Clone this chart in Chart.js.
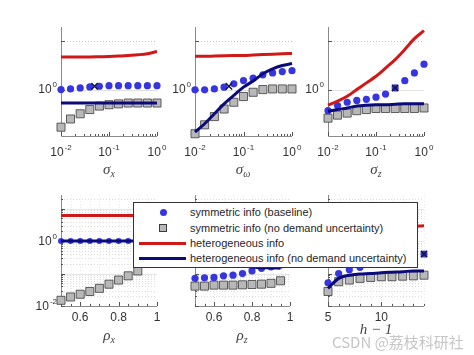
<!DOCTYPE html>
<html><head><meta charset="utf-8">
<script src="https://cdn.jsdelivr.net/npm/chart.js@4.4.1/dist/chart.umd.min.js"></script>
<style>
html,body{margin:0;padding:0;background:#fff}
body{width:474px;height:355px;overflow:hidden;position:relative;font-family:"Liberation Sans",Arial,sans-serif}
canvas{position:absolute}
.t{position:absolute;transform:translate(-50%,-50%);font:italic 15px "Liberation Serif","DejaVu Serif",serif;color:#444;white-space:nowrap;z-index:5}
.t sub{font-size:10px;vertical-align:-3px}
#leg{position:absolute;left:133px;top:202px;width:283px;height:64px;background:#fff;border:1px solid #333;z-index:10}
.row{position:absolute;left:0;height:15px;width:283px}
.row span{position:absolute;left:56px;top:0;font-size:11px;line-height:15px;color:#262626;white-space:nowrap}
.dot{position:absolute;left:26px;top:4px;width:7px;height:7px;border-radius:50%;background:#3636e0}
.sq{position:absolute;left:25px;top:3px;width:8px;height:8px;background:#b8b8b8;border:1px solid #3c3c3c;box-sizing:border-box}
.ln{position:absolute;left:5px;top:6px;width:47px;height:3px}
#wm{position:absolute;left:332px;top:331px;font:15px "Noto Sans CJK SC","Noto Sans",sans-serif;color:rgba(150,150,150,0.55);white-space:nowrap;z-index:20}
</style></head><body>

<div class="t" style="left:109px;top:170px">σ<sub>x</sub></div>
<div class="t" style="left:243px;top:170px">σ<sub>ω</sub></div>
<div class="t" style="left:376px;top:170px">σ<sub>z</sub></div>
<div class="t" style="left:109px;top:336px">ρ<sub>x</sub></div>
<div class="t" style="left:242px;top:336px">ρ<sub>z</sub></div>
<div class="t" style="left:376px;top:329px">h − 1</div>

<div id="leg">
  <div class="row" style="top:2px"><div class="dot"></div><span>symmetric info (baseline)</span></div>
  <div class="row" style="top:18px"><div class="sq"></div><span>symmetric info (no demand uncertainty)</span></div>
  <div class="row" style="top:33px"><div class="ln" style="background:#d01818"></div><span>heterogeneous info</span></div>
  <div class="row" style="top:48px"><div class="ln" style="background:#0a0a78"></div><span>heterogeneous info (no demand uncertainty)</span></div>
</div>
<div id="wm">CSDN @荔枝科研社</div>

<script>
// ---------- data ----------
const sigmaGrid = [0.01, 0.0158, 0.0251, 0.0398, 0.0631, 0.1, 0.158, 0.251, 0.398, 0.631, 1];
const rhoGrid = [0.5, 0.55, 0.6, 0.65, 0.7, 0.75, 0.8, 0.85, 0.9, 0.95];
const hGrid = [5, 6, 7, 8, 9, 10, 11, 12, 13, 14];

const sigmaTicks = [0.01, 0.1, 1];
const sigmaTickExp = ['-2', '-1', '0'];
const rhoTicks = [0.6, 0.8, 1];
const rhoTickLabels = ['0.6', '0.8', '1'];
const hTicks = [5, 10];
const hTickLabels = ['5', '10'];

// panel 1: sigma_x
const base1 = [1.0, 1.03, 1.08, 1.13, 1.17, 1.2, 1.2, 1.2, 1.2, 1.2, 1.2];
const noDU1 = [0.17, 0.25, 0.32, 0.39, 0.46, 0.49, 0.51, 0.53, 0.53, 0.53, 0.53];
const het1 = [4.65, 4.65, 4.65, 4.65, 4.7, 4.75, 4.85, 5.0, 5.15, 5.4, 6.0];
const hetNoDU1 = [0.53, 0.53, 0.53, 0.53, 0.53, 0.53, 0.53, 0.53, 0.53, 0.53, 0.53];
// panel 2: sigma_omega
const base2 = [0.99, 0.99, 1.03, 1.12, 1.31, 1.53, 1.71, 2.0, 2.19, 2.33, 2.44];
const noDU2 = [0.125, 0.19, 0.28, 0.40, 0.55, 0.72, 0.88, 1.0, 1.03, 1.03, 1.03];
const het2 = [4.8, 4.8, 4.85, 4.9, 4.95, 5.0, 5.1, 5.2, 5.3, 5.4, 5.5];
const hetNoDU2 = [0.135, 0.2, 0.32, 0.51, 0.76, 1.12, 1.5, 2.1, 2.65, 3.1, 3.4];
// panel 3: sigma_z
const base3 = [0.37, 0.47, 0.55, 0.60, 0.63, 0.70, 0.81, 1.08, 1.52, 2.19, 3.3];
const noDU3 = [0.26, 0.30, 0.33, 0.37, 0.39, 0.41, 0.41, 0.41, 0.41, 0.41, 0.42];
const het3 = [0.48, 0.58, 0.73, 1.0, 1.37, 1.87, 2.75, 4.1, 6.6, 11, 16];
const hetNoDU3 = [0.36, 0.39, 0.42, 0.46, 0.48, 0.49, 0.49, 0.50, 0.51, 0.51, 0.51];
// panel 4: rho_x
const base4 = [1, 1, 1, 1, 1, 1, 1, 1, 1, 1];
const noDU4 = [0.015, 0.019, 0.023, 0.028, 0.035, 0.047, 0.063, 0.085, 0.12, 0.22];
const het4 = [6.1, 6.1, 6.1, 6.1, 6.1, 6.1, 6.1, 6.1, 6.1, 6.1];
const hetNoDU4 = [1, 1, 1, 1, 1, 1, 1, 1, 1, 1];
// panel 5: rho_z
const base5 = [0.071, 0.074, 0.076, 0.085, 0.089, 0.1, 0.12, 0.145, 0.16, 0.18];
const noDU5 = [0.041, 0.041, 0.044, 0.044, 0.044, 0.045, 0.046, 0.047, 0.05, 0.06];
const het5 = [5.5, 5.5, 5.5, 5.5, 5.5, 5.5, 5.5, 5.5, 5.5, 5.5];
const hetNoDU5 = [0.22, 0.21, 0.2, 0.19, 0.18, 0.17, 0.16, 0.15, 0.15, 0.145];
// panel 6: h - 1
const base6 = [0.052, 0.10, 0.13, 0.155, 0.19, 0.21, 0.24, 0.28, 0.33, 0.4];
const noDU6 = [0.028, 0.056, 0.063, 0.071, 0.076, 0.08, 0.08, 0.083, 0.085, 0.089];
const het6 = [1.8, 2.0, 2.1, 2.2, 2.35, 2.5, 2.6, 2.75, 2.85, 2.95];
const hetNoDU6 = [0.035, 0.071, 0.089, 0.096, 0.10, 0.106, 0.11, 0.114, 0.12, 0.12];

// baseline parameter markers (x, y)
const markX = [0.05, 0.05, 0.25, null, null, 14];
const markY = [1.17, 1.17, 1.08, null, null, 0.4];

// ---------- layout ----------
const logMinors = [];
[0.01, 0.1, 1, 10].forEach(d => { for (let k = 2; k <= 9; k++) logMinors.push(d * k); });

const topY = {min: Math.pow(10, -0.95), max: Math.pow(10, 1.28)};
const botY = {min: 0.01, max: Math.pow(10, 1.42)};

const panels = [
  {L:61, T:27, R:157, B:136, xs:sigmaGrid, d:[base1,noDU1,het1,hetNoDU1], m:0, row:'top'},
  {L:195,T:27, R:292, B:136, xs:sigmaGrid, d:[base2,noDU2,het2,hetNoDU2], m:1, row:'top'},
  {L:328,T:27, R:424, B:136, xs:sigmaGrid, d:[base3,noDU3,het3,hetNoDU3], m:2, row:'top'},
  {L:61, T:195,R:157, B:306, xs:rhoGrid, d:[base4,noDU4,het4,hetNoDU4], m:3, row:'bot', xk:'rho', yLab:[0.01,1]},
  {L:195,T:195,R:290, B:306, xs:rhoGrid, d:[base5,noDU5,het5,hetNoDU5], m:4, row:'bot', xk:'rho', yLab:[1]},
  {L:328,T:195,R:424, B:306, xs:hGrid, d:[base6,noDU6,het6,hetNoDU6], m:5, row:'bot', xk:'h', yLab:[1]}
];

const F1 = '12px "Liberation Sans", Arial, sans-serif';
const F2 = '8px "Liberation Sans", Arial, sans-serif';

function powLabel(ctx, e, x, y, align) {
  ctx.font = F1; const w1 = ctx.measureText('10').width;
  ctx.font = F2; const w2 = ctx.measureText(e).width;
  const x0 = align === 'right' ? x - w1 - w2 - 1 : x - (w1 + w2 + 1) / 2;
  ctx.textAlign = 'left'; ctx.textBaseline = 'middle';
  ctx.font = F1; ctx.fillText('10', x0, y);
  ctx.font = F2; ctx.fillText(e, x0 + w1 + 1, y - 5);
}

function makePlugin(p) {
  const isTop = p.row === 'top';
  let xMajor, xMinor;
  if (isTop) {
    xMajor = sigmaTicks;
    xMinor = logMinors.filter(v => v > 0.01 && v < 1);
  } else if (p.xk === 'rho') {
    xMajor = rhoTicks;
    xMinor = rhoGrid;
  } else {
    xMajor = hTicks;
    xMinor = hGrid;
  }
  const yMajor = isTop ? [1, 10] : [0.01, 0.1, 1, 10];
  const yMinor = isTop ? [] : logMinors;
  return {
    id: 'mat',
    beforeDatasetsDraw(chart) {
      const {ctx, chartArea: a, scales: {x, y}} = chart;
      ctx.save();
      ctx.lineWidth = 1;
      const H = (v, col, dash) => {
        const py = Math.round(y.getPixelForValue(v)) + 0.5;
        if (py < a.top || py > a.bottom) return;
        ctx.strokeStyle = col; ctx.setLineDash(dash);
        ctx.beginPath(); ctx.moveTo(a.left, py); ctx.lineTo(a.right, py); ctx.stroke();
      };
      const V = (v, col, dash) => {
        const px = Math.round(x.getPixelForValue(v)) + 0.5;
        ctx.strokeStyle = col; ctx.setLineDash(dash);
        ctx.beginPath(); ctx.moveTo(px, a.top); ctx.lineTo(px, a.bottom); ctx.stroke();
      };
      if (isTop) {
        H(1, '#e2e2e2', []);
        H(10, '#c4c4c4', [1, 2]);
      } else {
        yMinor.forEach(v => H(v, '#dcdcdc', [1, 2]));
        yMajor.forEach(v => H(v, '#e6e6e6', []));
        xMinor.forEach(v => V(v, '#ececec', [1, 2]));
      }
      ctx.setLineDash([]);
      // axes
      ctx.strokeStyle = '#8a8a8a';
      ctx.beginPath();
      ctx.moveTo(a.left + 0.5, a.top); ctx.lineTo(a.left + 0.5, a.bottom + 0.5); ctx.lineTo(a.right, a.bottom + 0.5);
      ctx.stroke();
      // ticks (inward)
      ctx.strokeStyle = '#555';
      const tx = (v, len) => { const px = Math.round(x.getPixelForValue(v)) + 0.5; ctx.beginPath(); ctx.moveTo(px, a.bottom); ctx.lineTo(px, a.bottom - len); ctx.stroke(); };
      const ty = (v, len) => { const py = Math.round(y.getPixelForValue(v)) + 0.5; if (py < a.top - 1 || py > a.bottom + 1) return; ctx.beginPath(); ctx.moveTo(a.left, py); ctx.lineTo(a.left + len, py); ctx.stroke(); };
      xMinor.forEach(v => tx(v, 2));
      xMajor.forEach(v => tx(v, 4));
      yMinor.forEach(v => ty(v, 2));
      yMajor.forEach(v => ty(v, 4));
      ctx.restore();
    },
    afterDraw(chart) {
      const {ctx, chartArea: a, scales: {x, y}} = chart;
      ctx.save();
      ctx.fillStyle = '#333';
      if (isTop) {
        sigmaTicks.forEach((v, i) => powLabel(ctx, sigmaTickExp[i], x.getPixelForValue(v), a.bottom + 17, 'center'));
        powLabel(ctx, '0', a.left - 4, y.getPixelForValue(1), 'right');
      } else {
        const tk = p.xk === 'rho' ? rhoTicks : hTicks;
        const tl = p.xk === 'rho' ? rhoTickLabels : hTickLabels;
        ctx.font = F1; ctx.textAlign = 'center'; ctx.textBaseline = 'middle';
        tk.forEach((v, i) => ctx.fillText(tl[i], x.getPixelForValue(v), a.bottom + 12));
        p.yLab.forEach(v => powLabel(ctx, String(Math.round(Math.log10(v))), a.left - 4, y.getPixelForValue(v) + 1, 'right'));
      }
      ctx.restore();
    }
  };
}

const padL = 55, padT = 8, padR = 16, padB = 45;

panels.forEach(p => {
  const c = document.createElement('canvas');
  const w = p.R - p.L + padL + padR, h = p.B - p.T + padT + padB;
  c.width = w; c.height = h;
  c.style.width = w + 'px'; c.style.height = h + 'px';
  c.style.left = (p.L - padL) + 'px'; c.style.top = (p.T - padT) + 'px';
  document.body.appendChild(c);
  const pts = arr => p.xs.map((xv, i) => ({x: xv, y: arr[i]}));
  const datasets = [];
  if (markX[p.m] !== null) {
    datasets.push({data: [{x: markX[p.m], y: markY[p.m]}], showLine: false, pointStyle: 'crossRot',
      pointRadius: 4.5, borderColor: '#15153a', borderWidth: 1.5, clip: false});
  }
  datasets.push({data: pts(p.d[3]), borderColor: '#0a0a78', borderWidth: 3, pointRadius: 0, cubicInterpolationMode: 'monotone', clip: false});
  datasets.push({data: pts(p.d[2]), borderColor: '#d01818', borderWidth: 3, pointRadius: 0, cubicInterpolationMode: 'monotone', clip: false});
  datasets.push({data: pts(p.d[0]), showLine: false, pointStyle: 'circle', pointRadius: p.m === 3 ? 3 : 3.6,
    backgroundColor: '#3636e0', borderWidth: 0, clip: false});
  datasets.push({data: pts(p.d[1]), showLine: false, pointStyle: 'rect', pointRadius: 5.7,
    backgroundColor: '#b8b8b8', borderColor: '#3c3c3c', borderWidth: 0.8, clip: false});
  const isTop = p.row === 'top';
  const xs = isTop ? {type: 'logarithmic', min: 0.01, max: 1}
    : (p.xk === 'rho' ? {type: 'linear', min: 0.5, max: 1} : {type: 'linear', min: 5, max: 14});
  const ys = isTop ? topY : botY;
  new Chart(c, {
    type: 'line',
    data: {datasets},
    options: {
      responsive: false, animation: false, devicePixelRatio: 1, events: [],
      layout: {padding: {left: padL, top: padT, right: padR, bottom: padB}},
      scales: {
        x: Object.assign({display: false, bounds: 'data'}, xs),
        y: {type: 'logarithmic', display: false, bounds: 'data', min: ys.min, max: ys.max}
      },
      plugins: {legend: {display: false}, tooltip: {enabled: false}}
    },
    plugins: [makePlugin(p)]
  });
});
</script>
</body></html>
